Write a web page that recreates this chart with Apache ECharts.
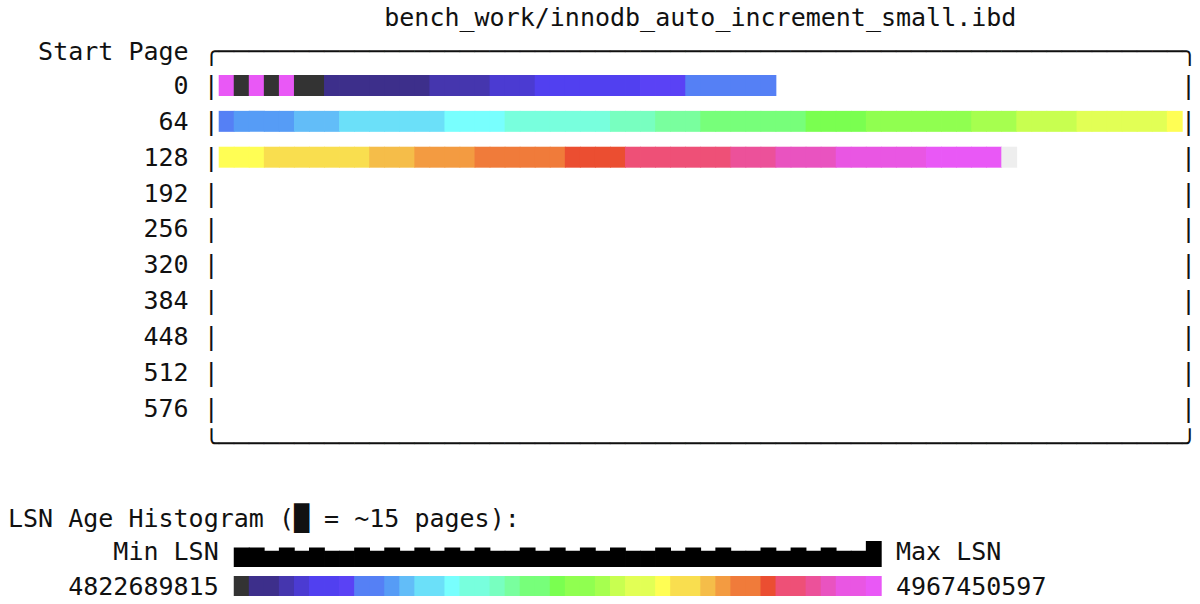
<!DOCTYPE html>
<html><head><meta charset="utf-8">
<script src="https://cdn.jsdelivr.net/npm/echarts@6/dist/echarts.min.js"></script>
<style>html,body{margin:0;padding:0;background:#fff}#c{width:1200px;height:604px}</style>
</head><body><div id="c"></div>
<script>
// ---- data ----
const titleText = 'bench_work/innodb_auto_increment_small.ibd';
const startPageLabels = ['0','64','128','192','256','320','384','448','512','576'];
const pagesPerRow = 64;
// LSN-age colour palette (oldest -> newest), last entry = page without LSN
const palette = ['#333333','#3d2f8b','#4536ae','#4b3bd2','#5140f0','#5a42f5','#5580f5','#569cf6',
  '#62bdf8','#6be0f9','#78fffe','#78ffdd','#78ffc0','#79ff9e','#77ff7a','#7aff50','#90ff50',
  '#a6ff4f','#c8ff50','#e2ff55','#fffe54','#f9de4f','#f5bd49','#f39b41','#f07b3a','#eb4e31',
  '#ee5077','#ec519a','#e953c0','#e956e3','#e958f6','#eeeeee'];
// colour index of each page, per map row
const row0Pages = [30,0,30,0,30,0,0,1,1,1,1,1,1,1,2,2,2,2,3,3,3,4,4,4,4,4,4,4,5,5,5,6,6,6,6,6,6];
const row64Pages = [6,7,7,7,7,8,8,8,9,9,9,9,9,9,9,10,10,10,10,11,11,11,11,11,11,11,12,12,12,13,13,13,
  14,14,14,14,14,14,14,15,15,15,15,16,16,16,16,16,16,16,17,17,17,18,18,18,18,19,19,19,19,19,19,20];
const row128Pages = [20,20,20,21,21,21,21,21,21,21,22,22,22,23,23,23,23,24,24,24,24,24,24,25,25,25,25,
  26,26,26,26,26,26,26,27,27,27,28,28,28,28,29,29,29,29,29,29,30,30,30,30,30,31];
const mapRows = [row0Pages, row64Pages, row128Pages];
// LSN age histogram: bucket colour and block height (in eighths of a full block)
const histBucketColors = [0,1,1,2,3,4,4,5,6,6,7,8,9,9,10,11,11,12,13,14,14,15,16,16,17,18,19,19,20,
  21,21,22,23,24,24,25,26,26,27,28,29,29,30];
const histBlockEighths = [6,6,5,6,5,6,5,5,6,5,6,5,6,5,6,5,6,5,5,6,5,6,5,6,5,6,5,5,6,5,6,5,6,5,5,6,5,6,5,6,5,5,8];
const histTitle = 'LSN Age Histogram (\u2588 = ~15 pages):';
const minLsnLabel = 'Min LSN', maxLsnLabel = 'Max LSN';
const minLsn = '4822689815', maxLsn = '4967450597';

// ---- layout (terminal character grid) ----
const FONT = '"DejaVu Sans Mono", monospace';
const FS = 25;
const CW = 15.05;           // character cell width
const X0 = 8;               // column 0
const col = c => X0 + c * CW;
const ROW0 = 85.5, ROWH = 35.85;
const INK = '#111111';

const mapData = [];
mapRows.forEach((row, r) => row.forEach((c, p) => mapData.push([p, r, c])));
const histData = histBlockEighths.map((v, i) => [i, v]);
const stripData = histBucketColors.map((c, i) => [i, 1, c]);

function txt(x, y, text, align) {
  return {type: 'text', x: x, y: y, silent: true,
    style: {text: text, fontFamily: '"DejaVu Sans Mono", monospace', fontSize: FS, fill: INK,
      align: align || 'left', verticalAlign: 'middle'}};
}
const dash = '\u2500'.repeat(pagesPerRow);

// cell rectangle from value-axis coords [i, i+1], slightly overlapped to avoid seams
function cellRect(api, i, y0, y1, fill) {
  const a = api.coord([i, y0]);
  const b = api.coord([i + 1, y1]);
  return {type: 'rect', shape: {x: a[0], y: b[1], width: b[0] - a[0] + 0.8, height: a[1] - b[1]},
    style: {fill: fill, stroke: null}};
}

const chart = echarts.init(document.getElementById('c'), null, {renderer: 'svg'});
chart.setOption({
  animation: false,
  backgroundColor: '#ffffff',
  grid: [
    {left: col(14), width: pagesPerRow * CW, top: ROW0 - ROWH / 2, height: ROWH * startPageLabels.length},
    {left: col(15), width: histBlockEighths.length * CW, top: 541, height: 26},
    {left: col(15), width: histBlockEighths.length * CW, top: 576, height: 20}
  ],
  xAxis: [
    {gridIndex: 0, type: 'value', min: 0, max: pagesPerRow, show: false},
    {gridIndex: 1, type: 'value', min: 0, max: histBlockEighths.length, show: false},
    {gridIndex: 2, type: 'value', min: 0, max: histBucketColors.length, show: false}
  ],
  yAxis: [
    {gridIndex: 0, type: 'category', data: startPageLabels, inverse: true,
      axisLine: {show: false}, axisTick: {show: false}, splitLine: {show: false},
      axisLabel: {margin: 0, fontFamily: FONT, fontSize: FS, color: INK, formatter: v => v + ' |'}},
    {gridIndex: 0, type: 'category', data: startPageLabels, inverse: true, position: 'right',
      axisLine: {show: false}, axisTick: {show: false}, splitLine: {show: false},
      axisLabel: {margin: -1, fontFamily: FONT, fontSize: FS, color: INK, formatter: () => '|'}},
    {gridIndex: 1, type: 'value', min: 0, max: 8, show: false},
    {gridIndex: 2, type: 'value', min: 0, max: 1, show: false}
  ],
  series: [
    {type: 'custom', xAxisIndex: 0, yAxisIndex: 0, data: mapData, encode: {x: 0, y: 1},
      renderItem: function (params, api) {
        const p = api.value(0), r = api.value(1);
        const a = api.coord([p, r]);
        const b = api.coord([p + 1, r]);
        const h = api.size([0, 1])[1] * 0.585;
        return {type: 'rect', shape: {x: a[0], y: a[1] - h / 2, width: b[0] - a[0] + 0.8, height: h},
          style: {fill: palette[api.value(2)]}};
      }},
    {type: 'custom', xAxisIndex: 1, yAxisIndex: 2, data: histData, encode: {x: 0, y: 1},
      renderItem: function (params, api) {
        return cellRect(api, api.value(0), 0, api.value(1), '#000000');
      }},
    {type: 'custom', xAxisIndex: 2, yAxisIndex: 3, data: stripData, encode: {x: 0, y: 1},
      renderItem: function (params, api) {
        return cellRect(api, api.value(0), 0, api.value(1), palette[api.value(2)]);
      }}
  ],
  graphic: [
    txt(col(25), 17, titleText),
    txt(col(2), 51, 'Start Page \u256D' + dash + '\u256E'),
    txt(col(13), 443, '\u2570' + dash + '\u256F'),
    txt(col(0), 518, histTitle),
    txt(col(14), 551, minLsnLabel, 'right'),
    txt(col(59), 551, maxLsnLabel),
    txt(col(14), 586, minLsn, 'right'),
    txt(col(59), 586, maxLsn)
  ]
});
</script></body></html>
